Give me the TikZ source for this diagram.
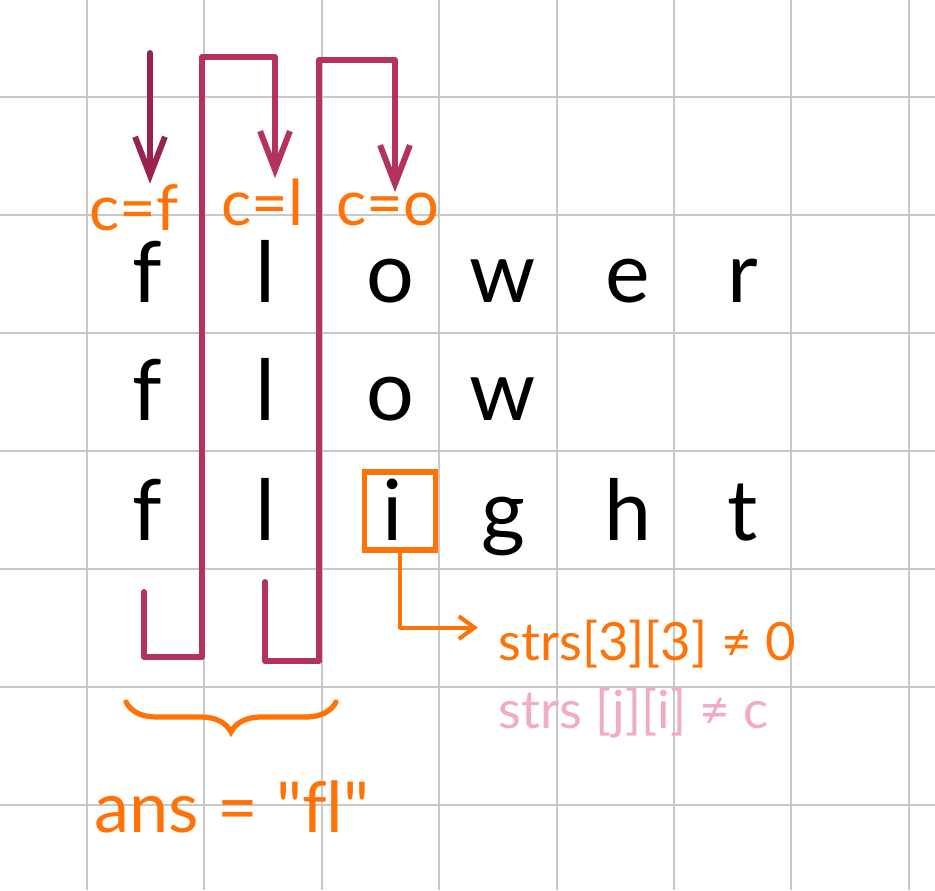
\documentclass[tikz,border=0pt]{standalone}
\usepackage{fontspec}
\setmainfont{Lato}
\newfontfamily\ansfont{Lato}
\usetikzlibrary{arrows.meta,decorations.pathreplacing}

\definecolor{gridgray}{RGB}{200,200,200}
\definecolor{berry}{RGB}{180,50,96}
\definecolor{berrydark}{RGB}{152,34,84}
\definecolor{tangerine}{RGB}{255,114,8}
\definecolor{blush}{RGB}{241,170,200}

\begin{document}
\begin{tikzpicture}[x=0.02cm, y=-0.02cm,
        gridline/.style={gridgray, line width=1.1pt},
        letter/.style={anchor=base, font=\fontsize{48}{48}\selectfont},
        clabel/.style={anchor=base, inner sep=0pt, tangerine, font=\fontsize{36}{36}\selectfont},
        scan/.style={berry, line width=3.4pt, line cap=round, line join=round, -{Straight Barb[length=22pt,width=17pt]}},
        note/.style={anchor=base west, inner sep=0pt, font=\fontsize{30}{30}\selectfont}]
    \useasboundingbox (0,0) rectangle (935,890);
    \fill[white] (0,0) rectangle (935,890);
    \foreach \i in {0,...,7}
        \draw[gridline] ({87+117.4*\i},0) -- ({87+117.4*\i},890);
    \foreach \j in {0,...,6}
        \draw[gridline] (0,{97+118*\j}) -- (935,{97+118*\j});

    % strs
    \foreach \ch/\x [count=\i] in {f/147,l/265,o/390,w/503,e/628,r/743}
        \node[letter] (a\i) at (\x,302) {\ch};
    \foreach \ch/\x [count=\i] in {f/147,l/265,o/390,w/503}
        \node[letter] (b\i) at (\x,420) {\ch};
    \foreach \ch/\x [count=\i] in {f/147,l/265,i/393,g/503,h/628,t/743}
        \node[letter] (c\i) at (\x,540) {\ch};

    % c for each column
    \node[clabel] (cf) at (134,230) {c=f};
    \node[clabel] (cl) at (262,225) {c=l};
    \node[clabel] (co) at (388,225) {c=o};

    \coordinate (s1) at (150,53);
    \coordinate (s2) at (144,592);
    \coordinate (t2) at (275,57);
    \coordinate (s3) at (265,582);
    \coordinate (t3) at (395,60);
    \draw[scan, berrydark] (s1) -- (s1 |- cf.north);
    \draw[scan] (s2) |- (202,657) |- (t2) -- (t2 |- cl.north);
    \draw[scan] (s3) |- (319,661) |- (t3) -- (t3 |- co.north);

    % mismatch
    \node[draw=tangerine, line width=3.2pt, minimum width=1.42cm, minimum height=1.56cm] (hit) at (400,511) {};
    \node[note, tangerine] (cond) at (498,660) {strs[3][3] ≠ 0};
    \node[note, blush] (rule) at (498,728) {strs [j][i] ≠ c};
    \draw[tangerine, line width=2.3pt, line join=round, -{Straight Barb[length=9pt,width=13pt]}]
        (hit.south) |- ([xshift=-0.4cm, yshift=0.32cm]cond.west);

    % answer
    \draw[tangerine, line width=3pt, line cap=round, decorate, decoration={brace, mirror, amplitude=0.6cm}]
        (126,702) -- (336,702);
    \node[anchor=base, tangerine, font=\ansfont\fontsize{40}{40}\selectfont] (ans) at (232,832) {ans = "f\kern0pt l"};
\end{tikzpicture}
\end{document}
